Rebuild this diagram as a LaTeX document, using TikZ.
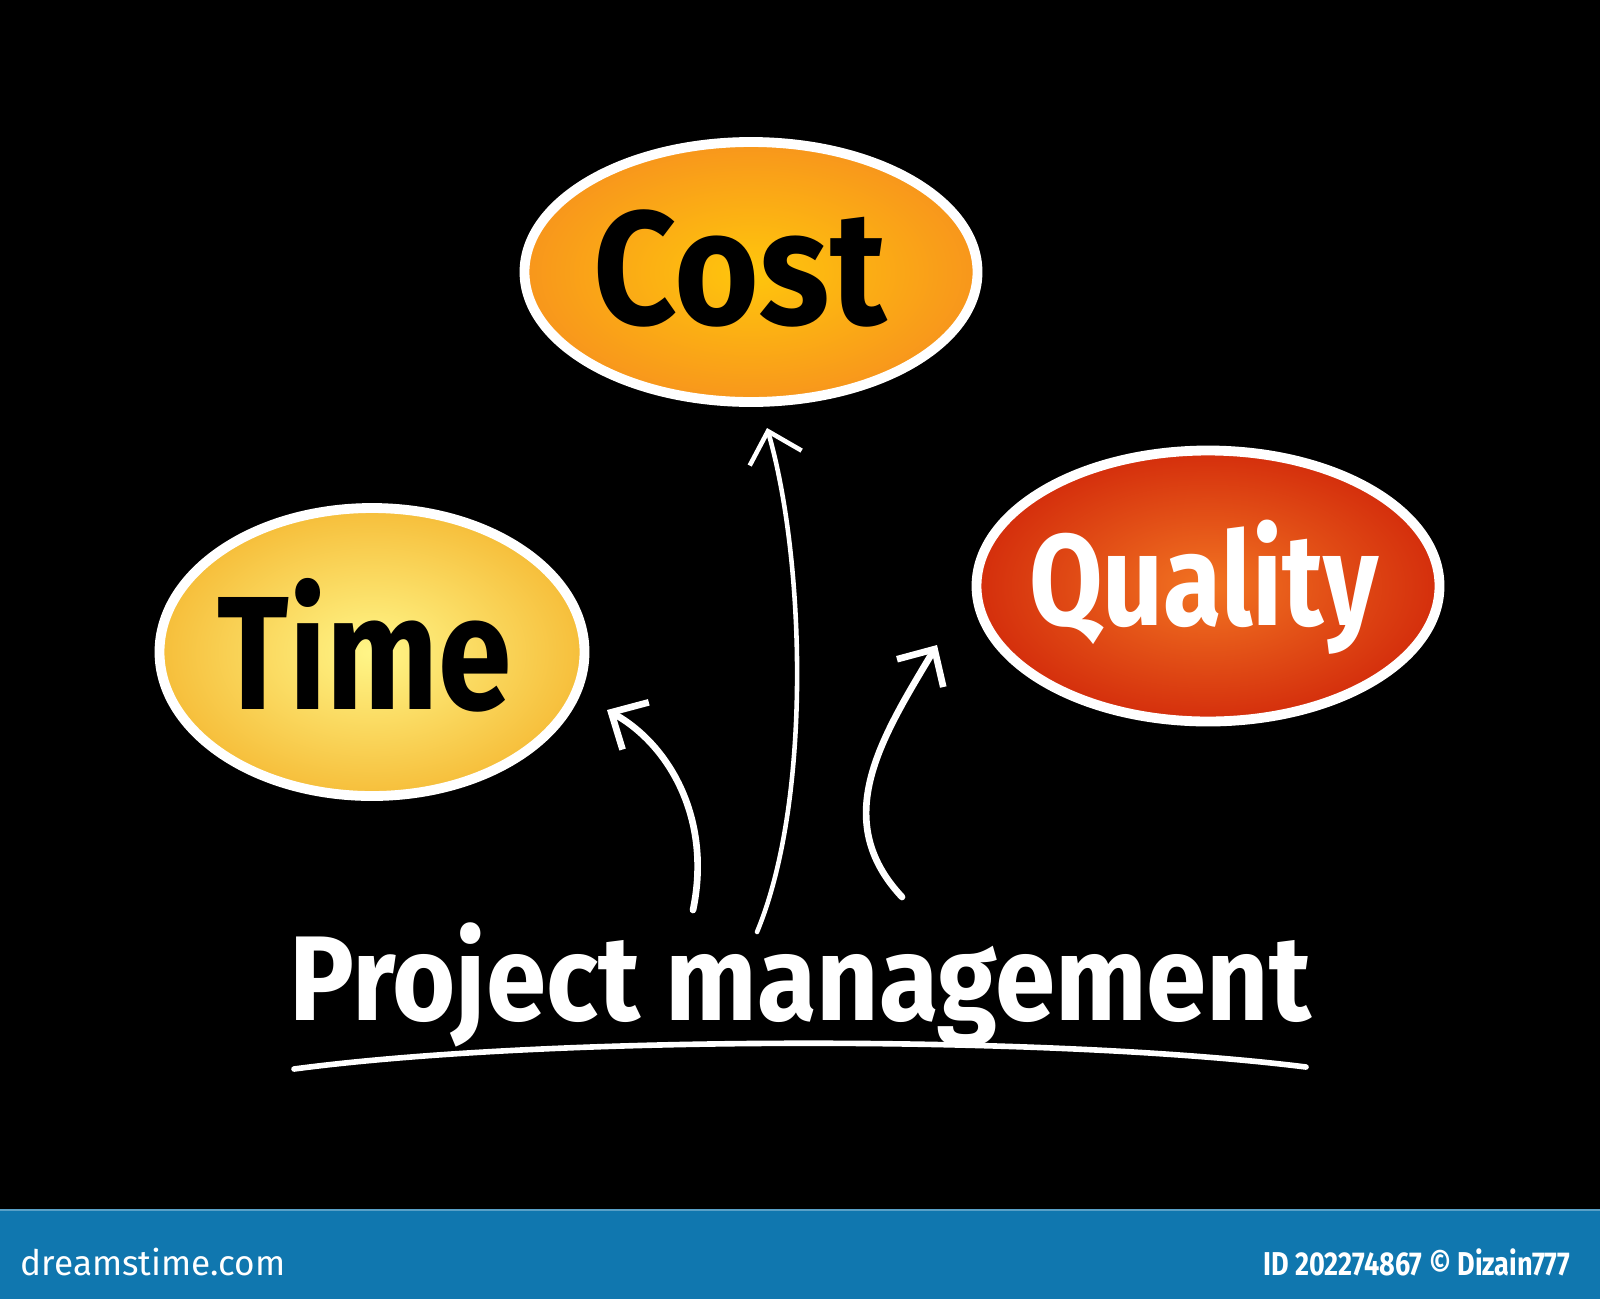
\documentclass[tikz,border=0pt]{standalone}
\usepackage{fontspec}
\setmainfont{Fira Sans}
\newfontfamily\handfont[FakeStretch=0.82]{Fira Sans}
\newfontfamily\widefont[FakeStretch=0.90]{Fira Sans}
\usetikzlibrary{shapes.geometric,arrows.meta}
% colours of the three bubbles (centre / rim)
\definecolor{costin}{HTML}{FFC60C}
\definecolor{costout}{HTML}{F8961C}
\definecolor{timein}{HTML}{FFF688}
\definecolor{timeout}{HTML}{F6BE3A}
\definecolor{qualin}{HTML}{F27422}
\definecolor{qualout}{HTML}{D42E0C}
\definecolor{barblue}{HTML}{1077AF}
\tikzset{
  bubble/.style={ellipse, draw=white, line width=2.8pt, shading=radial, inner sep=0pt},
  word/.style={anchor=base, font=\handfont\bfseries\fontsize{46}{46}\selectfont},
  pointer/.style={white, line width=1.9pt, line cap=round, -{Straight Barb[length=2.8mm, width=5.4mm]}},
}
\begin{document}
\begin{tikzpicture}
\useasboundingbox (0,0) rectangle (16,-12.99);
% black board and the blue strip
\fill[black] (0,0) rectangle (16,-12.09);
\fill[barblue] (0,-12.09) rectangle (16,-12.99);
\draw[barblue!70!white, line width=0.6pt] (0,-12.10) -- (16,-12.10);

% the three bubbles
\node[bubble, minimum width=4.53cm, minimum height=2.60cm, inner color=costin, outer color=costout] (cost) at (7.51,-2.72) {};
\node[bubble, minimum width=4.25cm, minimum height=2.88cm, inner color=timein, outer color=timeout] (time) at (3.72,-6.52) {};
\node[bubble, minimum width=4.63cm, minimum height=2.71cm, inner color=qualin, outer color=qualout] (quality) at (12.08,-5.86) {};

% words in the bubbles
\node[word, font=\widefont\bfseries\fontsize{46}{46}\selectfont] (costword) at (7.40,-3.24) {Cost};
\node[word] (timeword) at (3.65,-7.09) {Time};
\node[word, white, font=\handfont\bfseries\fontsize{37}{37}\selectfont] (qualword) at (12.04,-6.25) {Quality};

% title and its underline
\node[word, white, font=\widefont\bfseries\fontsize{34.3}{35}\selectfont] (title) at (8.00,-10.20) {Project management};
\coordinate (ulleft) at (2.94,-10.69);
\coordinate (ulright) at (13.06,-10.67);
\draw[white, line width=1.6pt, line cap=round] (ulleft) .. controls (5.5,-10.35) and (10.5,-10.35) .. (ulright);

% arrows from the title up to the bubbles
\coordinate (tfoot) at (6.93,-9.10);
\coordinate (ttip) at (6.07,-7.10);
\coordinate (cfoot) at (7.57,-9.32);
\coordinate (ctip) at (7.67,-4.28);
\coordinate (qfoot) at (9.02,-8.97);
\coordinate (qtip) at (9.37,-6.45);
\draw[pointer] (tfoot) .. controls (7.12,-8.20) and (6.70,-7.45) .. (ttip);
\draw[pointer, line width=1.3pt] (cfoot) .. controls (8.12,-8.00) and (8.05,-5.60) .. (ctip);
\draw[pointer] (qfoot) .. controls (8.30,-8.20) and (8.80,-7.40) .. (qtip);

% texts on the strip
\node[white, inner sep=0pt, font=\fontsize{10}{10}\selectfont] (site) at (1.53,-12.62) {dreamstime.com};
\node[white, inner sep=0pt, anchor=east, font=\handfont\bfseries\fontsize{9.4}{10}\selectfont] (credit) at (15.71,-12.62) {ID 202274867 © Dizain777};
\end{tikzpicture}
\end{document}
